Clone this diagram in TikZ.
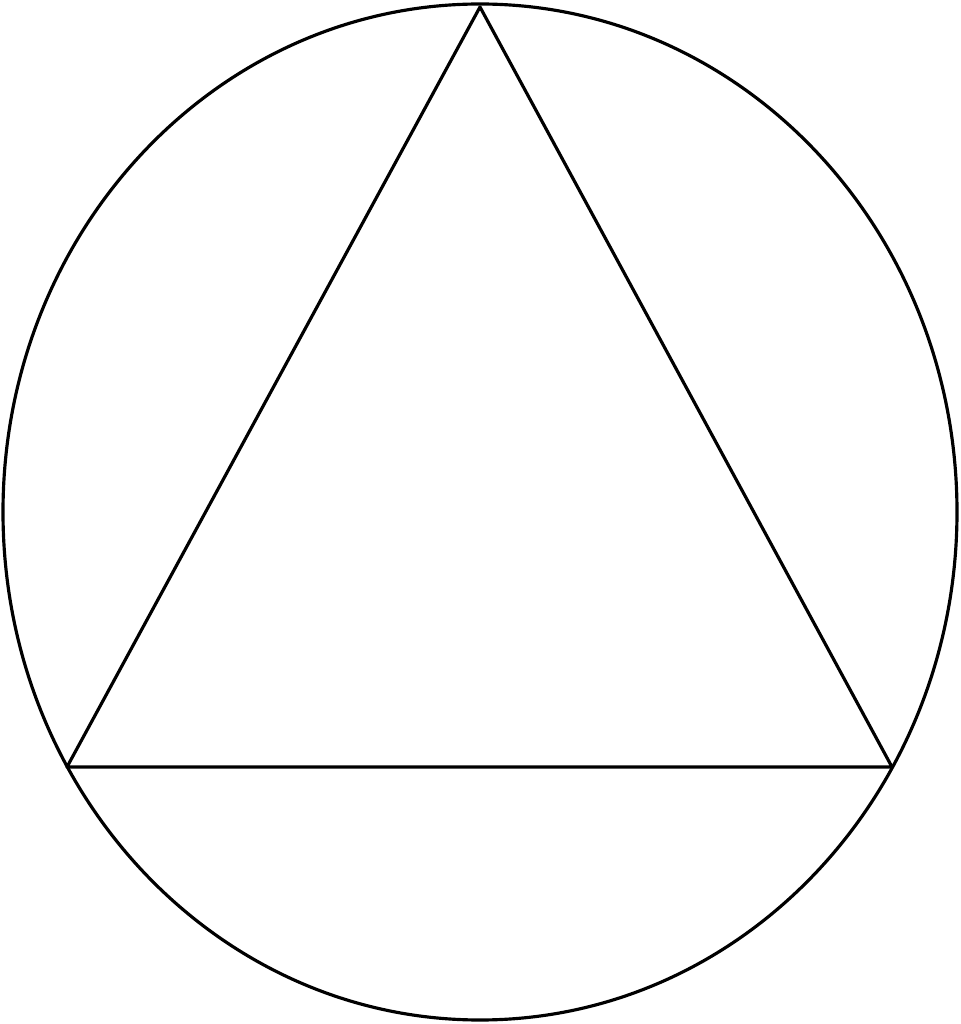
\documentclass[tikz,border=0pt]{standalone}
\usepackage{amsmath, amssymb}
\usepackage{tikz}

\begin{document}
\begin{tikzpicture}[line width=0.9pt]
        \useasboundingbox (0,0) rectangle (9.6,10.24);
        \coordinate (O) at (4.8,5.12);
        \coordinate (A) at (4.8,10.17);
        \coordinate (B) at (0.67,2.57);
        \coordinate (C) at (8.92,2.57);

        \draw[] (O) ellipse (4.77 and 5.08);
        \draw[line join=round] (A) -- (B) -- (C) -- cycle;
    \end{tikzpicture}
\end{document}
